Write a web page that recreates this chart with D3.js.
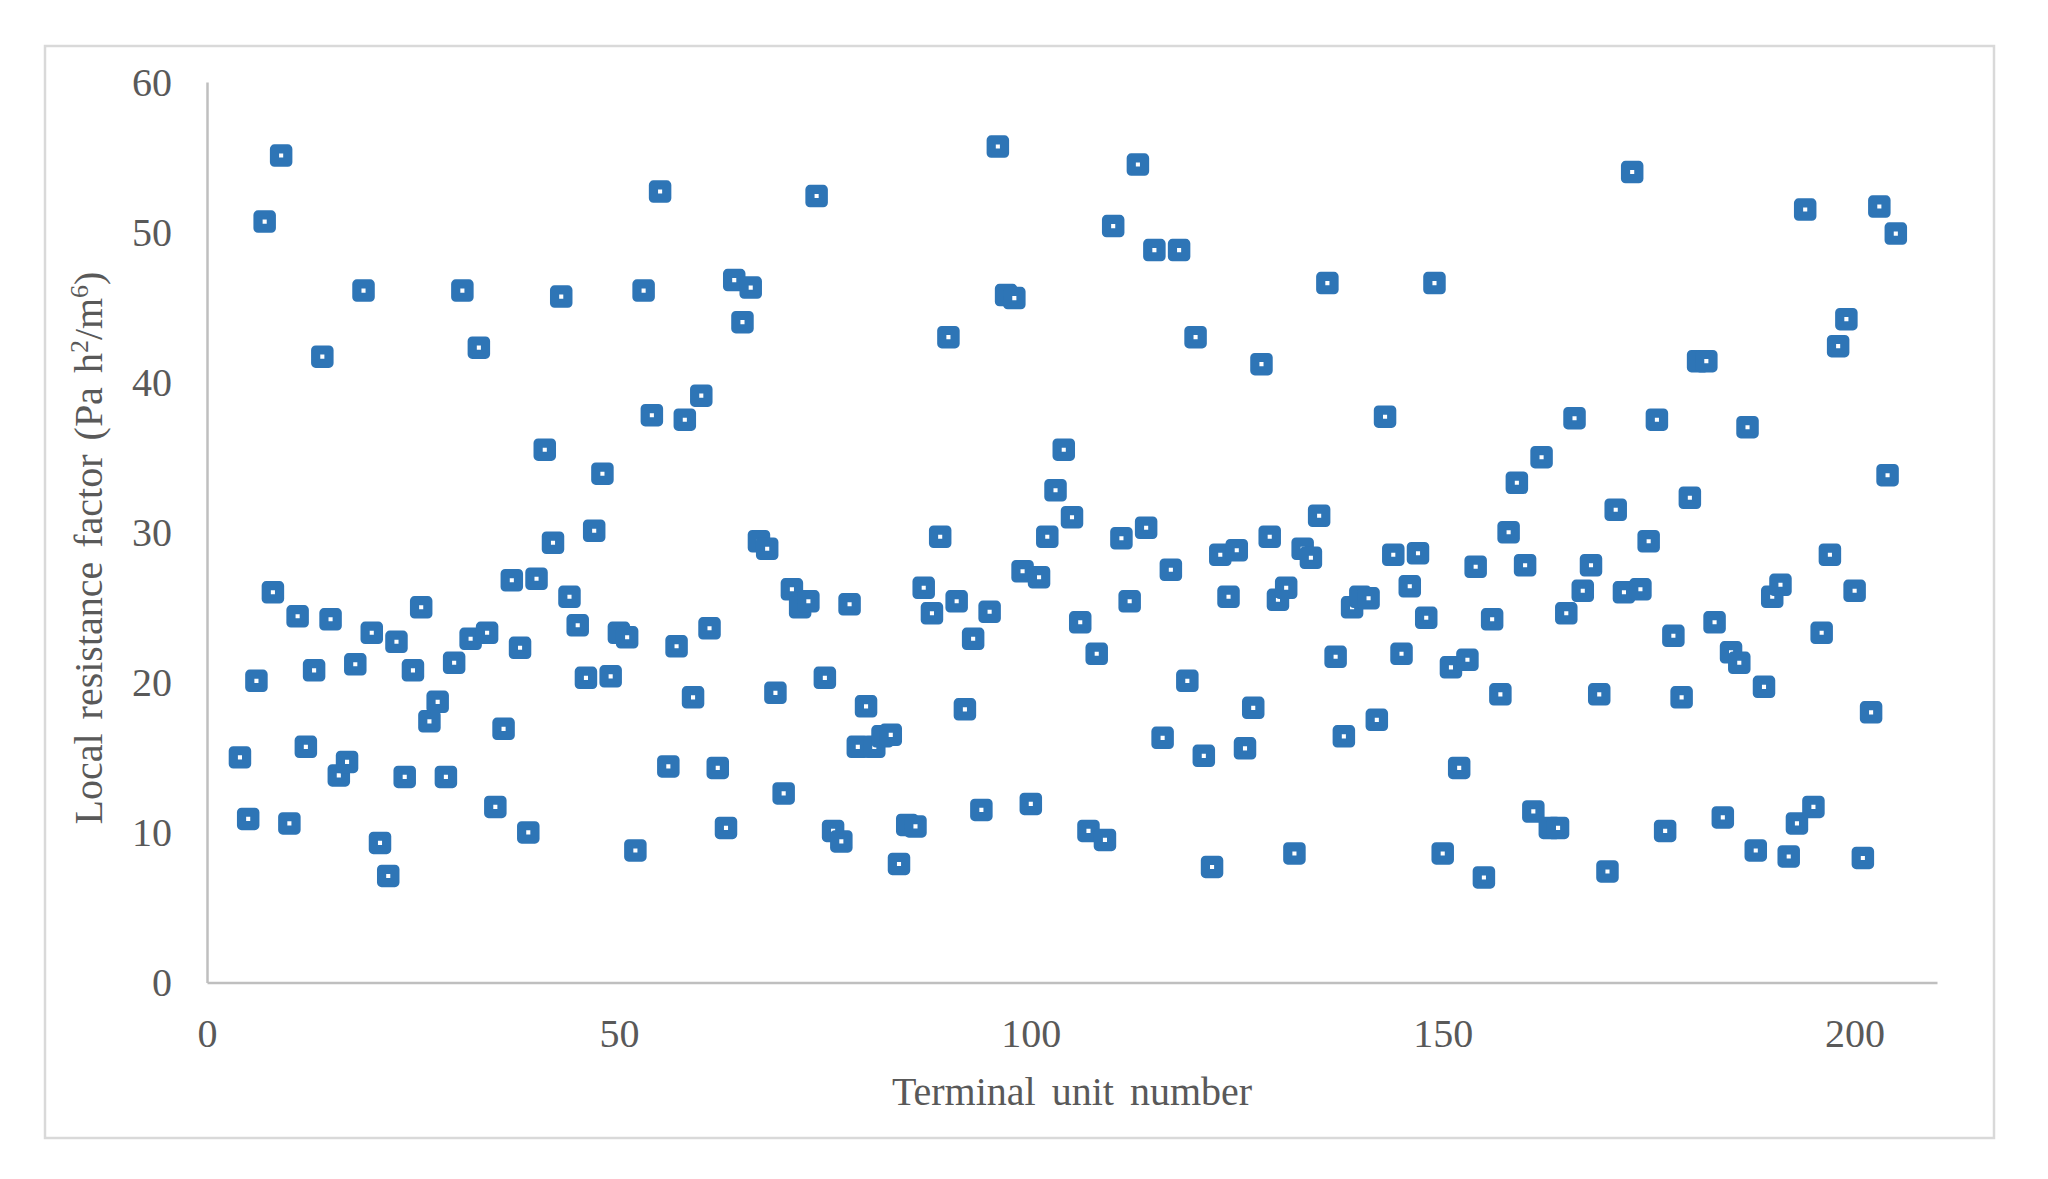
<!DOCTYPE html>
<html>
<head>
<meta charset="utf-8">
<script src="https://cdn.jsdelivr.net/npm/d3@7/dist/d3.min.js"></script>
<style>
  body { margin: 0; background: #fff; }
  svg { display: block; }
  text { font-family: "Liberation Serif", "Times New Roman", serif; fill: #595959; }
</style>
</head>
<body>
<svg id="chart" width="2048" height="1179"></svg>
<script>
// terminal unit number (x) and local resistance factor (y)
var unitNumber = [
  4, 5, 6, 7, 8, 9, 10, 11, 12, 13, 14, 15, 16, 17, 18, 19, 20, 21, 22, 23,
  24, 25, 26, 27, 28, 29, 30, 31, 32, 33, 34, 35, 36, 37, 38, 39, 40, 41, 42, 43,
  44, 45, 46, 47, 48, 49, 50, 51, 52, 53, 54, 55, 56, 57, 58, 59, 60, 61, 62, 63,
  64, 65, 66, 67, 68, 69, 70, 71, 72, 73, 74, 75, 76, 77, 78, 79, 80, 81, 82, 83,
  84, 85, 86, 87, 88, 89, 90, 91, 92, 93, 94, 95, 96, 97, 98, 99, 100, 101, 102, 103,
  104, 105, 106, 107, 108, 109, 110, 111, 112, 113, 114, 115, 116, 117, 118, 119, 120, 121, 122, 123,
  124, 125, 126, 127, 128, 129, 130, 131, 132, 133, 134, 135, 136, 137, 138, 139, 140, 141, 142, 143,
  144, 145, 146, 147, 148, 149, 150, 151, 152, 153, 154, 155, 156, 157, 158, 159, 160, 161, 162, 163,
  164, 165, 166, 167, 168, 169, 170, 171, 172, 173, 174, 175, 176, 177, 178, 179, 180, 181, 182, 183,
  184, 185, 186, 187, 188, 189, 190, 191, 192, 193, 194, 195, 196, 197, 198, 199, 200, 201, 202, 203,
  204, 205
];
var resistance = [
  15.0, 10.9, 20.1, 50.7, 26.0, 55.1, 10.6, 24.4, 15.7, 20.8, 41.7, 24.2, 13.8, 14.7, 21.2, 46.1, 23.3, 9.3, 7.1, 22.7,
  13.7, 20.8, 25.0, 17.4, 18.7, 13.7, 21.3, 46.1, 22.9, 42.3, 23.3, 11.7, 16.9, 26.8, 22.3, 10.0, 26.9, 35.5, 29.3, 45.7,
  25.7, 23.8, 20.3, 30.1, 33.9, 20.4, 23.3, 23.0, 8.8, 46.1, 37.8, 52.7, 14.4, 22.4, 37.5, 19.0, 39.1, 23.6, 14.3, 10.3,
  46.8, 44.0, 46.3, 29.4, 28.9, 19.3, 12.6, 26.2, 25.0, 25.4, 52.4, 20.3, 10.1, 9.4, 25.2, 15.7, 18.4, 15.7, 16.4, 16.5,
  7.9, 10.5, 10.4, 26.3, 24.6, 29.7, 43.0, 25.4, 18.2, 22.9, 11.5, 24.7, 55.7, 45.8, 45.6, 27.4, 11.9, 27.0, 29.7, 32.8,
  35.5, 31.0, 24.0, 10.1, 21.9, 9.5, 50.4, 29.6, 25.4, 54.5, 30.3, 48.8, 16.3, 27.5, 48.8, 20.1, 43.0, 15.1, 7.7, 28.5,
  25.7, 28.8, 15.6, 18.3, 41.2, 29.7, 25.5, 26.3, 8.6, 28.9, 28.3, 31.1, 46.6, 21.7, 16.4, 25.0, 25.7, 25.6, 17.5, 37.7,
  28.5, 21.9, 26.4, 28.6, 24.3, 46.6, 8.6, 21.0, 14.3, 21.5, 27.7, 7.0, 24.2, 19.2, 30.0, 33.3, 27.8, 11.4, 35.0, 10.3,
  10.3, 24.6, 37.6, 26.1, 27.8, 19.2, 7.4, 31.5, 26.0, 54.0, 26.2, 29.4, 37.5, 10.1, 23.1, 19.0, 32.3, 41.4, 41.4, 24.0,
  11.0, 22.0, 21.3, 37.0, 8.8, 19.7, 25.7, 26.5, 8.4, 10.6, 51.5, 11.7, 23.3, 28.5, 42.4, 44.2, 26.1, 8.3, 18.0, 51.7,
  33.8, 49.9
];
var xTicks = [0, 50, 100, 150, 200];
var yTicks = [0, 10, 20, 30, 40, 50, 60];

var points = unitNumber.map(function(u, i) { return { u: u, r: resistance[i] }; });

var svg = d3.select("#chart");

// outer chart border
svg.append("rect")
  .attr("x", 45).attr("y", 46)
  .attr("width", 1949).attr("height", 1092)
  .attr("fill", "#fff")
  .attr("stroke", "#D9D9D9")
  .attr("stroke-width", 2.5);

var x = d3.scaleLinear().domain([0, 210]).range([207, 1937]);
var y = d3.scaleLinear().domain([0, 60]).range([982.5, 82]);

// y axis
var gy = svg.append("g")
  .attr("transform", "translate(" + x(0) + ",0)")
  .call(d3.axisLeft(y).tickValues(yTicks).tickSize(0).tickSizeOuter(0));
gy.select(".domain").attr("stroke", "#BFBFBF").attr("stroke-width", 2.5);
gy.selectAll("text")
  .attr("x", -35).attr("dy", "0.33em")
  .style("font-size", "40px")
  .style("font-family", "'Liberation Serif', serif")
  .attr("fill", "#595959");

// x axis
var gx = svg.append("g")
  .attr("transform", "translate(0," + y(0) + ")")
  .call(d3.axisBottom(x).tickValues(xTicks).tickSize(0).tickSizeOuter(0));
gx.select(".domain").attr("stroke", "#BFBFBF").attr("stroke-width", 2.5);
gx.selectAll("text")
  .attr("y", 51).attr("dy", "0.33em")
  .style("font-size", "40px")
  .style("font-family", "'Liberation Serif', serif")
  .attr("fill", "#595959");

// axis titles
svg.append("text")
  .attr("x", (x(0) + x(210)) / 2)
  .attr("y", 1092)
  .attr("dy", "0.33em")
  .attr("text-anchor", "middle")
  .style("font-size", "40px")
  .style("word-spacing", "6px")
  .text("Terminal unit number");

var yt = svg.append("text")
  .attr("transform", "translate(89,548) rotate(-90)")
  .attr("dy", "0.33em")
  .attr("text-anchor", "middle")
  .style("font-size", "40px")
  .style("word-spacing", "4px");
yt.append("tspan").text("Local resistance factor (Pa h");
yt.append("tspan").attr("baseline-shift", "super").style("font-size", "26px").text("2");
yt.append("tspan").text("/m");
yt.append("tspan").attr("baseline-shift", "super").style("font-size", "26px").text("6");
yt.append("tspan").text(")");

// markers: blue rounded square with small white centre
var m = 13.3;
svg.append("g")
  .selectAll("rect")
  .data(points)
  .enter().append("rect")
  .attr("x", function(d) { return x(d.u) - m / 2; })
  .attr("y", function(d) { return y(d.r) - m / 2; })
  .attr("width", m)
  .attr("height", m)
  .attr("fill", "#fff")
  .attr("stroke", "#2E75B6")
  .attr("stroke-width", 9.2)
  .attr("stroke-linejoin", "round");
</script>
</body>
</html>
